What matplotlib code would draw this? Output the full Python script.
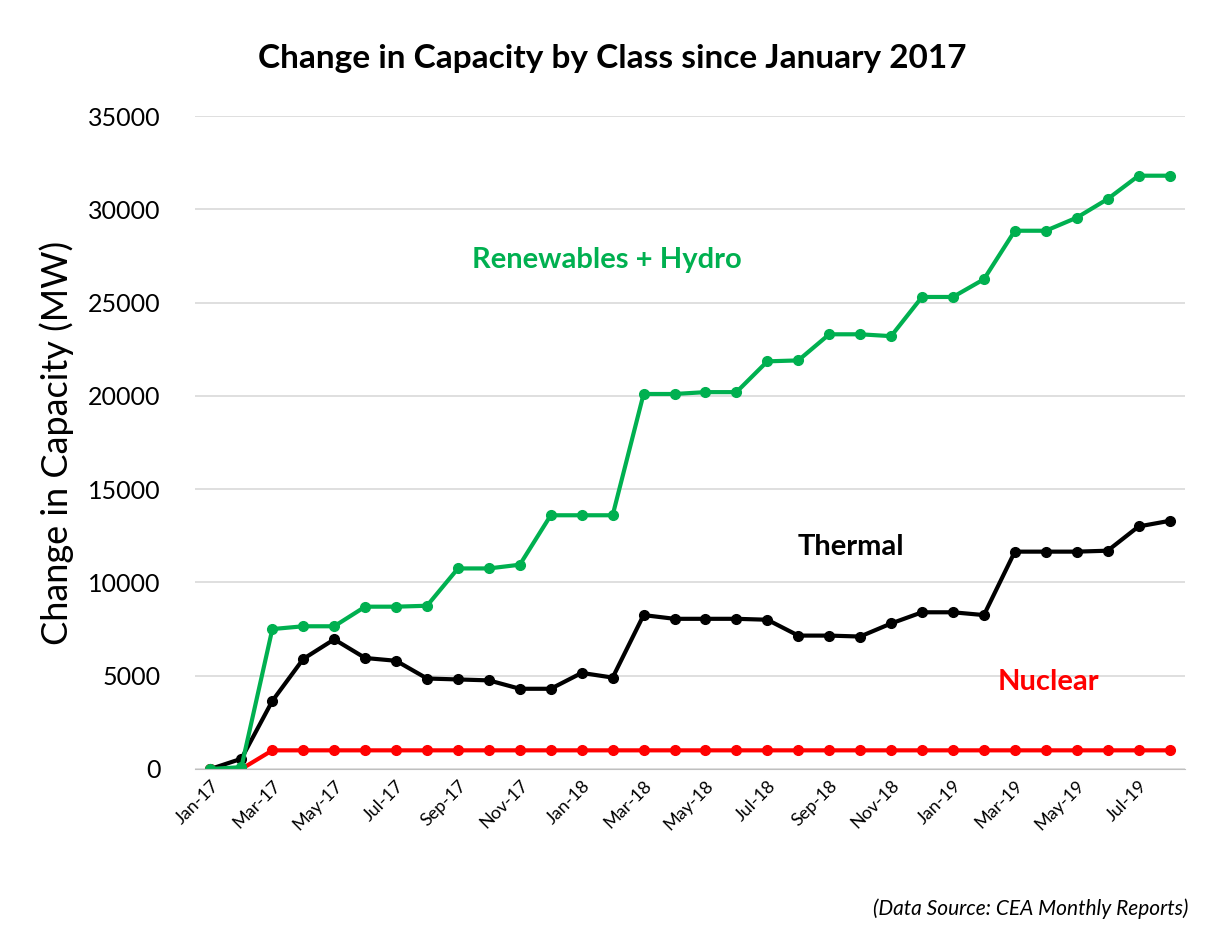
import matplotlib
matplotlib.use("Agg")
import matplotlib.pyplot as plt

months = ["Jan-17","Feb-17","Mar-17","Apr-17","May-17","Jun-17","Jul-17","Aug-17","Sep-17","Oct-17","Nov-17","Dec-17",
          "Jan-18","Feb-18","Mar-18","Apr-18","May-18","Jun-18","Jul-18","Aug-18","Sep-18","Oct-18","Nov-18","Dec-18",
          "Jan-19","Feb-19","Mar-19","Apr-19","May-19","Jun-19","Jul-19","Aug-19"]
renew = [0,100,7500,7650,7650,8700,8700,8750,10750,10750,10950,13600,13600,13600,20100,20100,20200,20200,
         21850,21900,23300,23300,23200,25300,25300,26250,28850,28850,29550,30550,31800,31800]
thermal = [0,550,3650,5900,6950,5950,5800,4850,4800,4750,4300,4300,5150,4900,8250,8050,8050,8050,8000,
           7150,7150,7100,7800,8400,8400,8250,11650,11650,11650,11700,13000,13300]
nuclear = [0,0] + [1000]*30

plt.rcParams['font.family'] = ['Lato', 'DejaVu Sans']
fig = plt.figure(figsize=(12.12, 9.41), dpi=100)
ax = fig.add_axes([195/1212, 1-769/941, 990/1212, (769-116)/941])
x = list(range(len(months)))
ax.plot(x, thermal, color='black', lw=3, marker='o', ms=7)
ax.plot(x, nuclear, color='#FF0000', lw=3, marker='o', ms=7)
ax.plot(x, renew, color='#00B050', lw=3, marker='o', ms=7)
ax.set_xlim(-0.5, 31.5)
ax.set_ylim(0, 35000)
ax.set_yticks(range(0, 35001, 5000))
ax.set_xticks(x[::2])
ax.set_xticklabels(months[::2], rotation=45, ha='right', rotation_mode='anchor', fontsize=13)
ax.tick_params(axis='y', labelsize=18, length=0, pad=25)
ax.tick_params(axis='x', length=0, pad=6)
ax.grid(axis='y', color='#D9D9D9', lw=1.2)
ax.set_axisbelow(True)
for s in ['top', 'right', 'left']:
    ax.spines[s].set_visible(False)
ax.spines['bottom'].set_color('#BFBFBF')
ax.set_ylabel('Change in Capacity (MW)', fontsize=26, labelpad=10)
fig.text(0.505, 0.928, 'Change in Capacity by Class since January 2017', ha='center', fontsize=24, weight='bold')
ax.text(12.8, 26850, 'Renewables + Hydro', color='#00B050', fontsize=21, weight='bold', ha='center')
ax.text(20.7, 11450, 'Thermal', color='black', fontsize=21, weight='bold', ha='center')
ax.text(27.1, 4250, 'Nuclear', color='#FF0000', fontsize=21, weight='bold', ha='center')
fig.text(1188/1212, 1-915/941, '(Data Source: CEA Monthly Reports)', ha='right', fontsize=15, style='italic')
fig.savefig('out.png', dpi=100, facecolor='white')
